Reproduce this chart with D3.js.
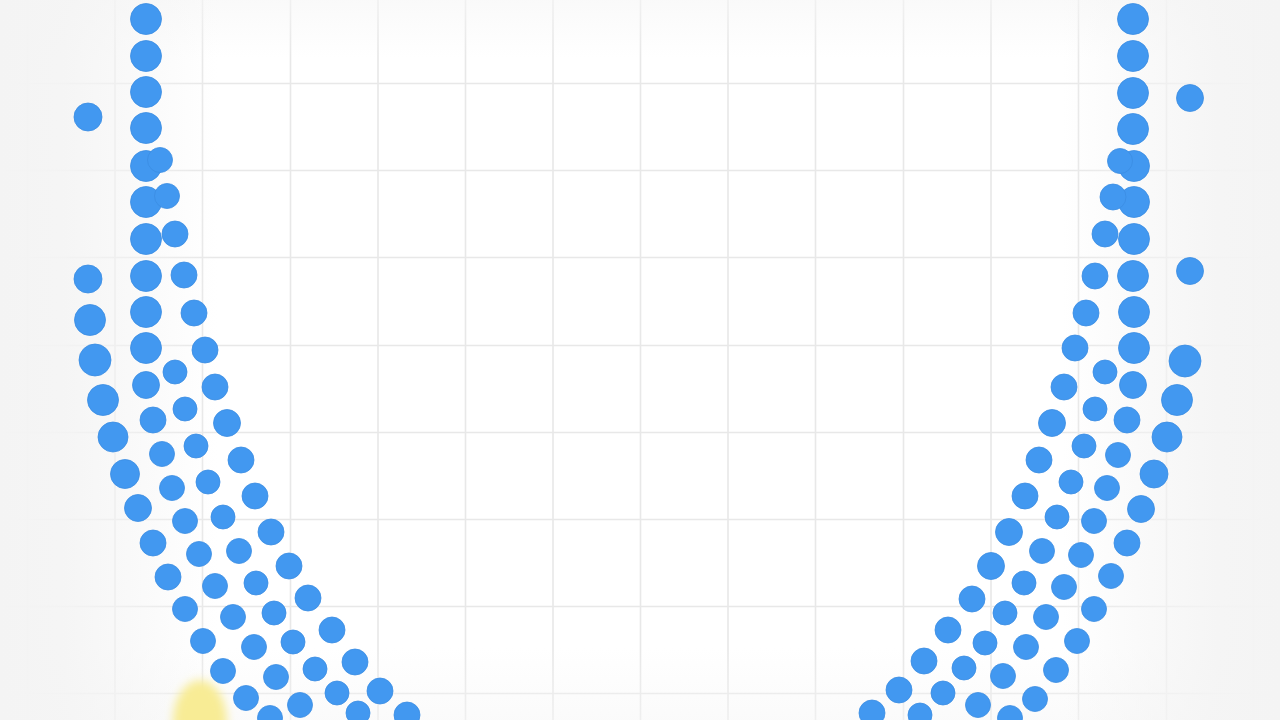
<!DOCTYPE html>
<html>
<head>
<meta charset="utf-8">
<script src="https://cdn.jsdelivr.net/npm/d3@7"></script>
<style>
html,body{margin:0;padding:0;background:#ffffff;overflow:hidden;}
svg{display:block;}
</style>
</head>
<body>
<svg id="chart" width="1280" height="720"></svg>
<script>
// Grid tick positions (plot units)
const gridX = [27, 114.5, 202, 290, 377.5, 465, 552.5, 640, 727.5, 815, 903, 990.5, 1078, 1166, 1253];
const gridY = [83, 170, 257, 345, 432, 519, 606, 693];

// Series: [x, y, r]
const leftIsolated = [[88,117,14]];
const leftOuter = [[88,279,14],[90,320,15.5],[95,360,16],[103,400,15.5],[113,437,15],[125,474,14.5],[138,508,13.5],[153,543,13],[168,577,13],[185,609,12.5],[203,641,12.5],[223,671,12.5],[246,698,12.5],[270,718,12.5]];
const leftColumn = [[146,19,15.5],[146,56,15.5],[146,92,15.5],[146,128,15.5],[146,166,15.5],[146,202,15.5],[146,239,15.5],[146,276,15.5],[146,312,15.5],[146,348,15.5],[146,385,13.5],[153,420,13],[162,454,12.5],[172,488,12.5],[185,521,12.5],[199,554,12.5],[215,586,12.5],[233,617,12.5],[254,647,12.5],[276,677,12.5],[300,705,12.5]];
const leftInner = [[160,160,12.5],[167,196,12.5],[175,234,13],[184,275,13],[194,313,13],[205,350,13],[215,387,13],[227,423,13.5],[241,460,13],[255,496,13],[271,532,13],[289,566,13],[308,598,13],[332,630,13],[355,662,13],[380,691,13],[407,715,13]];
const leftMid = [[175,372,12],[185,409,12],[196,446,12],[208,482,12],[223,517,12],[239,551,12.5],[256,583,12],[274,613,12],[293,642,12],[315,669,12],[337,693,12],[358,713,12]];

const rightIsolated = [[1190,98,13.5],[1190,271,13.5]];
const rightOuter = [[1185,361,16],[1177,400,15.5],[1167,437,15],[1154,474,14],[1141,509,13.5],[1127,543,13],[1111,576,12.5],[1094,609,12.5],[1077,641,12.5],[1056,670,12.5],[1035,699,12.5],[1010,718,12.5]];
const rightColumn = [[1133,19,15.5],[1133,56,15.5],[1133,93,15.5],[1133,129,15.5],[1134,166,15.5],[1134,202,15.5],[1134,239,15.5],[1133,276,15.5],[1134,312,15.5],[1134,348,15.5],[1133,385,13.5],[1127,420,13],[1118,455,12.5],[1107,488,12.5],[1094,521,12.5],[1081,555,12.5],[1064,587,12.5],[1046,617,12.5],[1026,647,12.5],[1003,676,12.5],[978,705,12.5]];
const rightInner = [[1120,161,12.5],[1113,197,13],[1105,234,13],[1095,276,13],[1086,313,13],[1075,348,13],[1064,387,13],[1052,423,13.5],[1039,460,13],[1025,496,13],[1009,532,13.5],[991,566,13.5],[972,599,13],[948,630,13],[924,661,13],[899,690,13],[872,713,13]];
const rightMid = [[1105,372,12],[1095,409,12],[1084,446,12],[1071,482,12],[1057,517,12],[1042,551,12.5],[1024,583,12],[1005,613,12],[985,643,12],[964,668,12],[943,693,12],[920,715,12]];

const highlight = [[200,722,27,42]]; // soft yellow blob [x,y,rx,ry]

const W = 1280, H = 720;
const svg = d3.select("#chart");
const x = d3.scaleLinear().domain([0, 1280]).range([0, W]);
const y = d3.scaleLinear().domain([0, 720]).range([0, H]);
const r = d3.scaleLinear().domain([0, 1]).range([0, 1]);

const defs = svg.append("defs");
const fade = defs.append("linearGradient").attr("id","fade").attr("x1","0%").attr("x2","100%").attr("y1","0%").attr("y2","0%");
[[0,1],[0.05,0.9],[0.1,0.55],[0.17,0],[0.83,0],[0.9,0.55],[0.95,0.9],[1,1]].forEach(([o,a])=>{
  fade.append("stop").attr("offset",o).attr("stop-color","#f4f4f4").attr("stop-opacity",a);
});
const vfade = defs.append("linearGradient").attr("id","vfade").attr("x1","0%").attr("x2","0%").attr("y1","0%").attr("y2","100%");
[[0,0.6],[0.08,0],[0.9,0],[1,0.5]].forEach(([o,a])=>{
  vfade.append("stop").attr("offset",o).attr("stop-color","#f6f6f6").attr("stop-opacity",a);
});

const blur = defs.append("filter").attr("id","blur").attr("x","-50%").attr("y","-50%").attr("width","200%").attr("height","200%");
blur.append("feGaussianBlur").attr("stdDeviation",5);

svg.append("rect").attr("width",W).attr("height",H).attr("fill","#ffffff");

// grid via axes
const gx = d3.axisBottom(x).tickValues(gridX).tickSize(-H).tickFormat("");
const gy = d3.axisLeft(y).tickValues(gridY).tickSize(-W).tickFormat("");
const gGrid = svg.append("g");
gGrid.append("g").attr("transform",`translate(0,${H})`).call(gx);
gGrid.append("g").call(gy);
gGrid.selectAll(".domain").remove();
gGrid.selectAll(".tick line").attr("stroke","#e8e8e8").attr("stroke-width",1.6);

svg.append("rect").attr("width",W).attr("height",H).attr("fill","url(#vfade)");
svg.append("rect").attr("width",W).attr("height",H).attr("fill","url(#fade)");

// yellow blob
svg.append("g").selectAll("ellipse").data(highlight).join("ellipse")
  .attr("cx",d=>x(d[0])).attr("cy",d=>y(d[1])).attr("rx",d=>d[2]).attr("ry",d=>d[3])
  .attr("fill","#f8ec95").attr("filter","url(#blur)");

const series = [leftIsolated,leftOuter,leftColumn,leftMid,leftInner,rightIsolated,rightOuter,rightColumn,rightMid,rightInner];
const dots = svg.append("g");
series.forEach(s=>{
  dots.append("g").selectAll("circle").data(s).join("circle")
    .attr("cx",d=>x(d[0])).attr("cy",d=>y(d[1])).attr("r",d=>r(d[2]))
    .attr("fill","#4298f0").attr("stroke","#3b8de2").attr("stroke-width",0.8);
});
</script>
</body>
</html>
